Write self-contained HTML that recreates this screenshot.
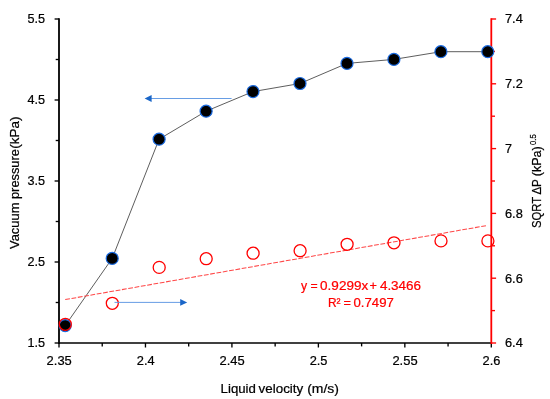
<!DOCTYPE html>
<html><head><meta charset="utf-8"><title>Chart</title>
<style>html,body{margin:0;padding:0;background:#fff}svg{display:block}text{font-family:"Liberation Sans",sans-serif;font-size:12.8px;stroke-width:.22px}</style></head><body>
<svg width="550" height="399" viewBox="0 0 550 399">
<rect width="550" height="399" fill="#fff"/>
<g stroke="#000" stroke-width="1.8" fill="none">
<path d="M59.0 18.3V343.9"/>
<path d="M59.0 343.0H491.3" stroke-width="1.7"/>
</g>
<g stroke="#000" stroke-width="1.35" fill="none">
<path d="M54.60 343.00H59.0"/>
<path d="M55.70 302.50H59.0"/>
<path d="M54.60 262.00H59.0"/>
<path d="M55.70 221.50H59.0"/>
<path d="M54.60 181.00H59.0"/>
<path d="M55.70 140.50H59.0"/>
<path d="M54.60 100.00H59.0"/>
<path d="M55.70 59.50H59.0"/>
<path d="M54.60 19.00H59.0"/>
<path d="M59.00 343.0V347.50"/>
<path d="M102.23 343.0V346.40"/>
<path d="M145.46 343.0V347.50"/>
<path d="M188.69 343.0V346.40"/>
<path d="M231.92 343.0V347.50"/>
<path d="M275.15 343.0V346.40"/>
<path d="M318.38 343.0V347.50"/>
<path d="M361.61 343.0V346.40"/>
<path d="M404.84 343.0V347.50"/>
<path d="M448.07 343.0V346.40"/>
<path d="M491.30 343.0V347.50"/>
</g>
<path d="M491.3 18.3V343.9" stroke="#f00" stroke-width="1.8" fill="none"/>
<g stroke="#f00" stroke-width="1.35" fill="none">
<path d="M491.3 343.00H496.10"/>
<path d="M491.3 310.60H495.00"/>
<path d="M491.3 278.20H496.10"/>
<path d="M491.3 245.80H495.00"/>
<path d="M491.3 213.40H496.10"/>
<path d="M491.3 181.00H495.00"/>
<path d="M491.3 148.60H496.10"/>
<path d="M491.3 116.20H495.00"/>
<path d="M491.3 83.80H496.10"/>
<path d="M491.3 51.40H495.00"/>
<path d="M491.3 19.00H496.10"/>
</g>
<polyline points="65.2,325.6 112.2,258.4 159.1,139.2 206.1,111.2 253.0,91.6 300.0,83.5 347.0,63.4 393.9,59.4 440.9,51.7 487.8,51.7" fill="none" stroke="#5e5e5e" stroke-width="1"/>
<circle cx="65.2" cy="325.6" r="6.0" fill="#000" stroke="#1a6ae0" stroke-width="1.2"/>
<circle cx="112.2" cy="258.4" r="6.0" fill="#000" stroke="#1a6ae0" stroke-width="1.2"/>
<circle cx="159.1" cy="139.2" r="6.0" fill="#000" stroke="#1a6ae0" stroke-width="1.2"/>
<circle cx="206.1" cy="111.2" r="6.0" fill="#000" stroke="#1a6ae0" stroke-width="1.2"/>
<circle cx="253.0" cy="91.6" r="6.0" fill="#000" stroke="#1a6ae0" stroke-width="1.2"/>
<circle cx="300.0" cy="83.5" r="6.0" fill="#000" stroke="#1a6ae0" stroke-width="1.2"/>
<circle cx="347.0" cy="63.4" r="6.0" fill="#000" stroke="#1a6ae0" stroke-width="1.2"/>
<circle cx="393.9" cy="59.4" r="6.0" fill="#000" stroke="#1a6ae0" stroke-width="1.2"/>
<circle cx="440.9" cy="51.7" r="6.0" fill="#000" stroke="#1a6ae0" stroke-width="1.2"/>
<circle cx="487.8" cy="51.7" r="6.0" fill="#000" stroke="#1a6ae0" stroke-width="1.2"/>
<path d="M65.2 299.6L486.4 225.6" stroke="#ff4848" stroke-width="1.05" stroke-dasharray="4.8 1.6" fill="none"/>
<circle cx="65.3" cy="324.3" r="6" fill="none" stroke="#f00" stroke-width="1.3"/>
<circle cx="112.3" cy="303.3" r="6" fill="none" stroke="#f00" stroke-width="1.3"/>
<circle cx="159.2" cy="267.4" r="6" fill="none" stroke="#f00" stroke-width="1.3"/>
<circle cx="206.2" cy="258.7" r="6" fill="none" stroke="#f00" stroke-width="1.3"/>
<circle cx="253.1" cy="253.2" r="6" fill="none" stroke="#f00" stroke-width="1.3"/>
<circle cx="300.1" cy="250.7" r="6" fill="none" stroke="#f00" stroke-width="1.3"/>
<circle cx="347.1" cy="244.3" r="6" fill="none" stroke="#f00" stroke-width="1.3"/>
<circle cx="394.0" cy="242.8" r="6" fill="none" stroke="#f00" stroke-width="1.3"/>
<circle cx="441.0" cy="240.9" r="6" fill="none" stroke="#f00" stroke-width="1.3"/>
<circle cx="487.9" cy="240.9" r="6" fill="none" stroke="#f00" stroke-width="1.3"/>
<path d="M231.6 98.5H150" stroke="#5f98e3" stroke-width="0.95" fill="none"/>
<path d="M144.6 98.5L151.6 95.1V101.9Z" fill="#1a66c8"/>
<path d="M114.5 302.4H182" stroke="#5f98e3" stroke-width="0.95" fill="none"/>
<path d="M187.2 302.4L180.2 299V305.8Z" fill="#1a66c8"/>
<text x="45.0" y="347.4" text-anchor="end" fill="#000" stroke="#000" textLength="17.6" lengthAdjust="spacingAndGlyphs">1.5</text>
<text x="45.0" y="266.4" text-anchor="end" fill="#000" stroke="#000" textLength="17.6" lengthAdjust="spacingAndGlyphs">2.5</text>
<text x="45.0" y="185.4" text-anchor="end" fill="#000" stroke="#000" textLength="17.6" lengthAdjust="spacingAndGlyphs">3.5</text>
<text x="45.0" y="104.4" text-anchor="end" fill="#000" stroke="#000" textLength="17.6" lengthAdjust="spacingAndGlyphs">4.5</text>
<text x="45.0" y="23.4" text-anchor="end" fill="#000" stroke="#000" textLength="17.6" lengthAdjust="spacingAndGlyphs">5.5</text>
<text x="505.0" y="347.4" text-anchor="start" fill="#000" stroke="#000" textLength="17.8" lengthAdjust="spacingAndGlyphs">6.4</text>
<text x="505.0" y="282.6" text-anchor="start" fill="#000" stroke="#000" textLength="17.8" lengthAdjust="spacingAndGlyphs">6.6</text>
<text x="505.0" y="217.8" text-anchor="start" fill="#000" stroke="#000" textLength="17.8" lengthAdjust="spacingAndGlyphs">6.8</text>
<text x="505.0" y="153.0" text-anchor="start" fill="#000" stroke="#000" textLength="7.0" lengthAdjust="spacingAndGlyphs">7</text>
<text x="505.0" y="88.2" text-anchor="start" fill="#000" stroke="#000" textLength="17.8" lengthAdjust="spacingAndGlyphs">7.2</text>
<text x="505.0" y="23.4" text-anchor="start" fill="#000" stroke="#000" textLength="17.8" lengthAdjust="spacingAndGlyphs">7.4</text>
<text x="59.2" y="365.2" text-anchor="middle" fill="#000" stroke="#000" textLength="25.2" lengthAdjust="spacingAndGlyphs">2.35</text>
<text x="145.7" y="365.2" text-anchor="middle" fill="#000" stroke="#000" textLength="17.8" lengthAdjust="spacingAndGlyphs">2.4</text>
<text x="232.1" y="365.2" text-anchor="middle" fill="#000" stroke="#000" textLength="25.2" lengthAdjust="spacingAndGlyphs">2.45</text>
<text x="318.6" y="365.2" text-anchor="middle" fill="#000" stroke="#000" textLength="17.8" lengthAdjust="spacingAndGlyphs">2.5</text>
<text x="405.0" y="365.2" text-anchor="middle" fill="#000" stroke="#000" textLength="25.2" lengthAdjust="spacingAndGlyphs">2.55</text>
<text x="491.5" y="365.2" text-anchor="middle" fill="#000" stroke="#000" textLength="17.8" lengthAdjust="spacingAndGlyphs">2.6</text>
<text x="220.6" y="392.6" text-anchor="start" fill="#000" stroke="#000" textLength="35.3" lengthAdjust="spacingAndGlyphs">Liquid</text>
<text x="258.6" y="392.6" text-anchor="start" fill="#000" stroke="#000" textLength="44.6" lengthAdjust="spacingAndGlyphs">velocity</text>
<text x="307.2" y="392.6" text-anchor="start" fill="#000" stroke="#000" textLength="31.8" lengthAdjust="spacingAndGlyphs">(m/s)</text>
<text transform="translate(19.4 249.0) rotate(-90)" text-anchor="start" fill="#000" stroke="#000" textLength="46.4" lengthAdjust="spacingAndGlyphs">Vacuum</text>
<text transform="translate(19.4 199.0) rotate(-90)" text-anchor="start" fill="#000" stroke="#000" textLength="49.8" lengthAdjust="spacingAndGlyphs">pressure</text>
<text transform="translate(19.4 148.7) rotate(-90)" text-anchor="start" fill="#000" stroke="#000" textLength="32.1" lengthAdjust="spacingAndGlyphs">(kPa)</text>
<text transform="translate(541.2 228.0) rotate(-90)" text-anchor="start" fill="#000" stroke="#000" textLength="31.2" lengthAdjust="spacingAndGlyphs">SQRT</text>
<text transform="translate(541.2 194.6) rotate(-90)" text-anchor="start" fill="#000" stroke="#000" textLength="15.4" lengthAdjust="spacingAndGlyphs">ΔP</text>
<text transform="translate(541.2 176.3) rotate(-90)" text-anchor="start" fill="#000" stroke="#000" textLength="30.0" lengthAdjust="spacingAndGlyphs">(kPa)</text>
<text transform="translate(536.2 144.9) rotate(-90)" text-anchor="start" fill="#000" stroke="#000" style="font-size:9.6px" textLength="10.6" lengthAdjust="spacingAndGlyphs">0.5</text>
<text x="300.9" y="290.4" text-anchor="start" fill="#f00" stroke="#f00" textLength="16.7" lengthAdjust="spacingAndGlyphs">y =</text>
<text x="320.1" y="290.4" text-anchor="start" fill="#f00" stroke="#f00" textLength="48.1" lengthAdjust="spacingAndGlyphs">0.9299x</text>
<text x="369.6" y="290.4" text-anchor="start" fill="#f00" stroke="#f00" textLength="7.4" lengthAdjust="spacingAndGlyphs">+</text>
<text x="379.9" y="290.4" text-anchor="start" fill="#f00" stroke="#f00" textLength="41.2" lengthAdjust="spacingAndGlyphs">4.3466</text>
<text x="328.0" y="306.6" text-anchor="start" fill="#f00" stroke="#f00" textLength="12.6" lengthAdjust="spacingAndGlyphs">R²</text>
<text x="343.4" y="306.6" text-anchor="start" fill="#f00" stroke="#f00" textLength="7.4" lengthAdjust="spacingAndGlyphs">=</text>
<text x="353.5" y="306.6" text-anchor="start" fill="#f00" stroke="#f00" textLength="40.3" lengthAdjust="spacingAndGlyphs">0.7497</text>
</svg></body></html>
